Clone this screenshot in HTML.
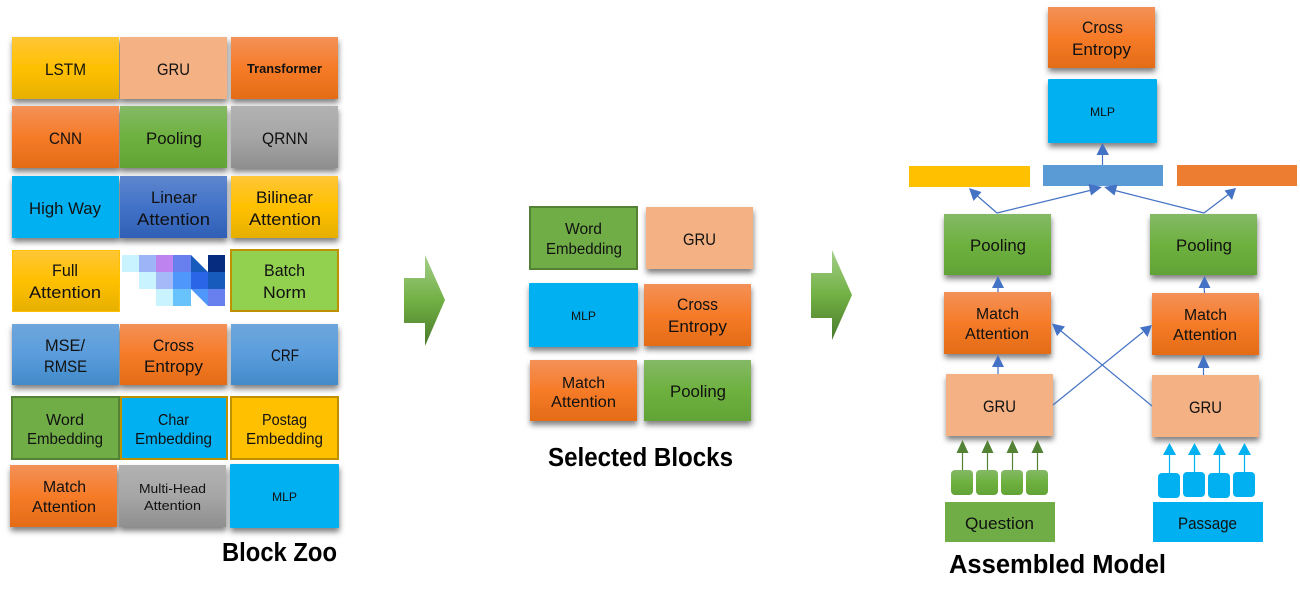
<!DOCTYPE html>
<html>
<head>
<meta charset="utf-8">
<title>Block Zoo diagram</title>
<style>
html,body{margin:0;padding:0;background:#fff;width:1300px;height:600px;overflow:hidden}
svg{display:block}
text{font-family:"Liberation Sans",sans-serif;fill:#111;font-size:16.5px}
.m{font-size:15.5px}
.s{font-size:13px}
.x{font-size:12px}
.h{font-size:25.5px;font-weight:bold;fill:#000}
.conn{stroke:#4472c4;stroke-width:1.2;fill:none}
.head{fill:#4472c4}
</style>
</head>
<body>
<svg width="1300" height="600" viewBox="0 0 1300 600" xmlns="http://www.w3.org/2000/svg">
<defs>
<filter id="sh" x="-15%" y="-15%" width="130%" height="145%"><feDropShadow dx="0.5" dy="4" stdDeviation="3" flood-color="#000" flood-opacity=".5"/></filter>
<linearGradient id="o" x1="0" y1="0" x2="0" y2="1"><stop offset="0" stop-color="#f39158"/><stop offset=".5" stop-color="#f67b28"/><stop offset="1" stop-color="#e46c17"/></linearGradient>
<linearGradient id="g" x1="0" y1="0" x2="0" y2="1"><stop offset="0" stop-color="#84b966"/><stop offset=".5" stop-color="#6eb13f"/><stop offset="1" stop-color="#62a336"/></linearGradient>
<linearGradient id="y" x1="0" y1="0" x2="0" y2="1"><stop offset="0" stop-color="#ffc637"/><stop offset=".5" stop-color="#ffc000"/><stop offset="1" stop-color="#e6b000"/></linearGradient>
<linearGradient id="a" x1="0" y1="0" x2="0" y2="1"><stop offset="0" stop-color="#b2b2b2"/><stop offset=".5" stop-color="#a6a6a6"/><stop offset="1" stop-color="#8f8f8f"/></linearGradient>
<linearGradient id="b" x1="0" y1="0" x2="0" y2="1"><stop offset="0" stop-color="#6fa6dc"/><stop offset=".5" stop-color="#5a9ddd"/><stop offset="1" stop-color="#428ac9"/></linearGradient>
<linearGradient id="d" x1="0" y1="0" x2="0" y2="1"><stop offset="0" stop-color="#5f87cd"/><stop offset=".5" stop-color="#4272c8"/><stop offset="1" stop-color="#2f60b6"/></linearGradient>
<linearGradient id="ar" x1="0" y1="0" x2="0" y2="1"><stop offset="0" stop-color="#a4cf8a"/><stop offset=".5" stop-color="#72b044"/><stop offset="1" stop-color="#497a2c"/></linearGradient>
</defs>

<!-- Block Zoo -->
<g filter="url(#sh)">
<rect x="12" y="37" width="107" height="62" fill="url(#y)"/>
<rect x="120" y="37" width="107" height="62" fill="#f4b183"/>
<rect x="231" y="37" width="107" height="62" fill="url(#o)"/>
<rect x="12" y="106" width="107" height="62" fill="url(#o)"/>
<rect x="120" y="106" width="107" height="62" fill="url(#g)"/>
<rect x="231" y="106" width="107" height="62" fill="url(#a)"/>
<rect x="12" y="176" width="107" height="62" fill="#00b0f0"/>
<rect x="120" y="176" width="107" height="62" fill="url(#d)"/>
<rect x="231" y="176" width="107" height="62" fill="url(#y)"/>
<rect x="12" y="324" width="107" height="61" fill="url(#b)"/>
<rect x="120" y="324" width="107" height="61" fill="url(#o)"/>
<rect x="231" y="324" width="107" height="61" fill="url(#b)"/>
<rect x="10" y="465" width="107" height="62" fill="url(#o)"/>
<rect x="119" y="465" width="107" height="62" fill="url(#a)"/>
<rect x="230" y="464" width="109" height="64" rx="1" fill="#00b0f0"/>
</g>
<rect x="12.5" y="250.5" width="107" height="61" fill="url(#y)" stroke="#ffc000"/>
<rect x="231" y="250" width="107" height="61" fill="#92d050" stroke="#bf9000" stroke-width="2"/>
<rect x="12" y="397" width="107" height="62" fill="#70ad47" stroke="#548235" stroke-width="2"/>
<rect x="121" y="397" width="106" height="62" fill="#00b0f0" stroke="#bf9000" stroke-width="2"/>
<rect x="231" y="397" width="107" height="62" fill="#ffc000" stroke="#bf9000" stroke-width="2"/>

<!-- mosaic -->
<g shape-rendering="crispEdges">
<rect x="122" y="255" width="17" height="17" fill="#c9f3fe"/>
<rect x="139" y="255" width="17" height="17" fill="#9db5f7"/>
<rect x="156" y="255" width="17" height="17" fill="#bf83ef"/>
<rect x="173" y="255" width="18" height="17" fill="#6880ee"/>
<rect x="208" y="255" width="17" height="17" fill="#062c80"/>
<rect x="139" y="272" width="17" height="17" fill="#c9f3fe"/>
<rect x="156" y="272" width="17" height="17" fill="#a5b8f8"/>
<rect x="173" y="272" width="18" height="17" fill="#5097fb"/>
<rect x="191" y="272" width="17" height="17" fill="#2a65e8"/>
<rect x="208" y="272" width="17" height="17" fill="#175bbd"/>
<rect x="156" y="289" width="17" height="17" fill="#c9f3fe"/>
<rect x="173" y="289" width="18" height="17" fill="#68c3fd"/>
<rect x="208" y="289" width="17" height="17" fill="#6880ee"/>
</g>
<polygon points="191,255 208,272 191,272" fill="#175bbd"/>
<polygon points="191,289 208,289 208,306" fill="#5097fb"/>

<text x="45" y="75" textLength="41" lengthAdjust="spacingAndGlyphs">LSTM</text>
<text x="157" y="75" textLength="33" lengthAdjust="spacingAndGlyphs">GRU</text>
<text x="247" y="73" textLength="75" lengthAdjust="spacingAndGlyphs" class="s" font-weight="bold">Transformer</text>
<text x="49" y="144" textLength="33" lengthAdjust="spacingAndGlyphs">CNN</text>
<text x="146" y="144" textLength="56" lengthAdjust="spacingAndGlyphs">Pooling</text>
<text x="262" y="144" textLength="46" lengthAdjust="spacingAndGlyphs">QRNN</text>
<text x="29" y="214" textLength="72" lengthAdjust="spacingAndGlyphs">High Way</text>
<text x="151" y="203" textLength="46" lengthAdjust="spacingAndGlyphs">Linear</text>
<text x="137" y="225" textLength="73" lengthAdjust="spacingAndGlyphs">Attention</text>
<text x="256" y="203" textLength="57" lengthAdjust="spacingAndGlyphs">Bilinear</text>
<text x="249" y="225" textLength="72" lengthAdjust="spacingAndGlyphs">Attention</text>
<text x="52" y="276" textLength="26" lengthAdjust="spacingAndGlyphs">Full</text>
<text x="29" y="298" textLength="72" lengthAdjust="spacingAndGlyphs">Attention</text>
<text x="264" y="276" textLength="41" lengthAdjust="spacingAndGlyphs">Batch</text>
<text x="263" y="298" textLength="43" lengthAdjust="spacingAndGlyphs">Norm</text>
<text x="45" y="351" textLength="40" lengthAdjust="spacingAndGlyphs">MSE/</text>
<text x="44" y="372" textLength="43" lengthAdjust="spacingAndGlyphs">RMSE</text>
<text x="153" y="351" textLength="41" lengthAdjust="spacingAndGlyphs">Cross</text>
<text x="144" y="372" textLength="59" lengthAdjust="spacingAndGlyphs">Entropy</text>
<text x="271" y="361" textLength="28" lengthAdjust="spacingAndGlyphs">CRF</text>
<text x="46" y="425" textLength="38" lengthAdjust="spacingAndGlyphs" class="m">Word</text>
<text x="27" y="444" textLength="76" lengthAdjust="spacingAndGlyphs" class="m">Embedding</text>
<text x="158" y="425" textLength="31" lengthAdjust="spacingAndGlyphs" class="m">Char</text>
<text x="135" y="444" textLength="77" lengthAdjust="spacingAndGlyphs" class="m">Embedding</text>
<text x="262" y="425" textLength="45" lengthAdjust="spacingAndGlyphs" class="m">Postag</text>
<text x="246" y="444" textLength="77" lengthAdjust="spacingAndGlyphs" class="m">Embedding</text>
<text x="43" y="492" textLength="43" lengthAdjust="spacingAndGlyphs" class="m">Match</text>
<text x="32" y="512" textLength="64" lengthAdjust="spacingAndGlyphs" class="m">Attention</text>
<text x="139" y="493" textLength="67" lengthAdjust="spacingAndGlyphs" class="s">Multi-Head</text>
<text x="144" y="510" textLength="57" lengthAdjust="spacingAndGlyphs" class="s">Attention</text>
<text x="272" y="501" textLength="25" lengthAdjust="spacingAndGlyphs" class="x">MLP</text>
<text x="222" y="561" textLength="115" lengthAdjust="spacingAndGlyphs" class="h">Block Zoo</text>

<!-- big arrows -->
<polygon points="404,278 425,278 425,255 445,300 425,346 425,323 404,323" fill="url(#ar)"/>
<polygon points="811,273 832,273 832,250 852,295 832,340 832,318 811,318" fill="url(#ar)"/>

<!-- Selected Blocks -->
<rect x="530" y="207" width="107" height="62" fill="#70ad47" stroke="#548235" stroke-width="2"/>
<g filter="url(#sh)">
<rect x="646" y="207" width="107" height="62" fill="#f4b183"/>
<rect x="529" y="283" width="109" height="64" rx="1" fill="#00b0f0"/>
<rect x="644" y="284" width="107" height="62" fill="url(#o)"/>
<rect x="530" y="360" width="107" height="61" fill="url(#o)"/>
<rect x="644" y="360" width="107" height="61" fill="url(#g)"/>
</g>
<text x="565" y="234" textLength="37" lengthAdjust="spacingAndGlyphs" class="m">Word</text>
<text x="546" y="254" textLength="76" lengthAdjust="spacingAndGlyphs" class="m">Embedding</text>
<text x="683" y="245" textLength="33" lengthAdjust="spacingAndGlyphs">GRU</text>
<text x="571" y="320" textLength="25" lengthAdjust="spacingAndGlyphs" class="x">MLP</text>
<text x="677" y="310" textLength="41" lengthAdjust="spacingAndGlyphs">Cross</text>
<text x="668" y="332" textLength="59" lengthAdjust="spacingAndGlyphs">Entropy</text>
<text x="562" y="388" textLength="43" lengthAdjust="spacingAndGlyphs" class="m">Match</text>
<text x="551" y="407" textLength="65" lengthAdjust="spacingAndGlyphs" class="m">Attention</text>
<text x="670" y="397" textLength="56" lengthAdjust="spacingAndGlyphs">Pooling</text>
<text x="548" y="466" textLength="185" lengthAdjust="spacingAndGlyphs" class="h">Selected Blocks</text>

<!-- Assembled Model -->
<g filter="url(#sh)">
<rect x="1048" y="7" width="107" height="61" fill="url(#o)"/>
<rect x="1048" y="79" width="109" height="64" rx="1" fill="#00b0f0"/>
<rect x="944" y="214" width="107" height="61" fill="url(#g)"/>
<rect x="1150" y="214" width="107" height="61" fill="url(#g)"/>
<rect x="944" y="292" width="107" height="62" fill="url(#o)"/>
<rect x="1152" y="293" width="107" height="62" fill="url(#o)"/>
<rect x="946" y="374" width="107" height="62" fill="#f4b183"/>
<rect x="1152" y="375" width="107" height="62" fill="#f4b183"/>
</g>
<rect x="909" y="166" width="121" height="21" fill="#ffc000"/>
<rect x="1043" y="165" width="120" height="21" fill="#5b9bd5"/>
<rect x="1177" y="165" width="120" height="21" fill="#ed7d31"/>
<rect x="945" y="502" width="110" height="40" fill="#70ad47"/>
<rect x="1153" y="502" width="110" height="40" fill="#00b0f0"/>

<g fill="url(#g)">
<rect x="951" y="470" width="22" height="25" rx="4"/>
<rect x="976" y="470" width="22" height="25" rx="4"/>
<rect x="1001" y="470" width="22" height="25" rx="4"/>
<rect x="1026" y="470" width="22" height="25" rx="4"/>
</g>
<g fill="#00b0f0">
<rect x="1158" y="473" width="22" height="25" rx="4"/>
<rect x="1183" y="472" width="22" height="25" rx="4"/>
<rect x="1208" y="473" width="22" height="25" rx="4"/>
<rect x="1233" y="472" width="22" height="25" rx="4"/>
</g>

<!-- connectors -->
<g class="conn">
<line x1="1102.5" y1="165" x2="1102.5" y2="153"/>
<line x1="997" y1="213" x2="974" y2="193"/>
<line x1="997" y1="213" x2="1092" y2="190"/>
<line x1="1204" y1="213" x2="1113" y2="190"/>
<line x1="1204" y1="213" x2="1229" y2="194"/>
<line x1="998" y1="292" x2="998" y2="286"/>
<line x1="1204.5" y1="293" x2="1204" y2="286"/>
<line x1="998" y1="374" x2="998" y2="364"/>
<line x1="1203.5" y1="375" x2="1203.5" y2="364"/>
<line x1="1053" y1="405" x2="1143" y2="332"/>
<line x1="1152" y1="406" x2="1061" y2="331"/>
</g>
<g class="head">
<polygon points="1102.5,143 1109,155 1096.5,155"/>
<polygon points="969,188 981.5,192 973.5,201"/>
<polygon points="1102,187 1091,195.500 1088.500,184"/>
<polygon points="1104,187 1117.500,184.500 1114.500,195.500"/>
<polygon points="1236,188 1224.500,190.500 1232,200"/>
<polygon points="998,276 1004,288 992,288"/>
<polygon points="1204.500,276 1210.500,288 1198.500,288"/>
<polygon points="998,355 1004,367 992,367"/>
<polygon points="1203.500,355 1209.500,368 1197.500,368"/>
<polygon points="1152,325 1147.500,337 1140,327.500"/>
<polygon points="1052,323.500 1065,326.500 1057,336"/>
</g>
<g stroke="#548235" stroke-width="1.2">
<line x1="962.500" y1="452" x2="962.500" y2="470"/>
<line x1="987.500" y1="452" x2="987.500" y2="470"/>
<line x1="1012.500" y1="452" x2="1012.500" y2="470"/>
<line x1="1037.500" y1="452" x2="1037.500" y2="470"/>
</g>
<g fill="#548235">
<polygon points="962.500,440 968.500,453 956.500,453"/>
<polygon points="987.500,440 993.500,453 981.500,453"/>
<polygon points="1012.500,440 1018.500,453 1006.500,453"/>
<polygon points="1037.500,440 1043.500,453 1031.500,453"/>
</g>
<g stroke="#00b0f0" stroke-width="1.2">
<line x1="1169.500" y1="454" x2="1169.500" y2="473"/>
<line x1="1194.500" y1="454" x2="1194.500" y2="472"/>
<line x1="1219.500" y1="454" x2="1219.500" y2="473"/>
<line x1="1244.500" y1="454" x2="1244.500" y2="472"/>
</g>
<g fill="#00b0f0">
<polygon points="1169.500,443 1176,455 1163,455"/>
<polygon points="1194.500,443 1201,455 1188,455"/>
<polygon points="1219.500,443 1226,455 1213,455"/>
<polygon points="1244.500,443 1251,455 1238,455"/>
</g>

<text x="1082" y="33" textLength="41" lengthAdjust="spacingAndGlyphs">Cross</text>
<text x="1072" y="55" textLength="59" lengthAdjust="spacingAndGlyphs">Entropy</text>
<text x="1090" y="116" textLength="25" lengthAdjust="spacingAndGlyphs" class="x">MLP</text>
<text x="970" y="251" textLength="56" lengthAdjust="spacingAndGlyphs">Pooling</text>
<text x="1176" y="251" textLength="56" lengthAdjust="spacingAndGlyphs">Pooling</text>
<text x="976" y="319" textLength="43" lengthAdjust="spacingAndGlyphs" class="m">Match</text>
<text x="965" y="339" textLength="64" lengthAdjust="spacingAndGlyphs" class="m">Attention</text>
<text x="1184" y="320" textLength="43" lengthAdjust="spacingAndGlyphs" class="m">Match</text>
<text x="1173" y="340" textLength="64" lengthAdjust="spacingAndGlyphs" class="m">Attention</text>
<text x="983" y="412" textLength="33" lengthAdjust="spacingAndGlyphs">GRU</text>
<text x="1189" y="413" textLength="33" lengthAdjust="spacingAndGlyphs">GRU</text>
<text x="965" y="529" textLength="69" lengthAdjust="spacingAndGlyphs">Question</text>
<text x="1178" y="529" textLength="59" lengthAdjust="spacingAndGlyphs">Passage</text>
<text x="949" y="573" textLength="217" lengthAdjust="spacingAndGlyphs" class="h">Assembled Model</text>
</svg>
</body>
</html>
